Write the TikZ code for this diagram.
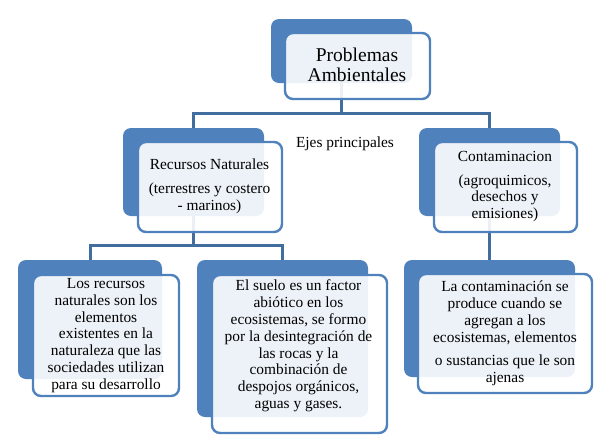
\documentclass[tikz,border=0pt]{standalone}
\usepackage{fontspec}
\setmainfont{Liberation Serif}
\usepackage{xcolor}
\usetikzlibrary{positioning}
\definecolor{smartblue}{RGB}{79,129,189}
\definecolor{linkblue}{RGB}{65,110,158}

\tikzset{
    backbox/.style={draw=none, fill=smartblue, rounded corners=8pt, inner sep=0pt},
    frontbox/.style={draw=smartblue, line width=2.4pt, fill=white, fill opacity=0.9, rounded corners=8pt, inner sep=0pt},
    txt/.style={align=center, inner sep=0pt, font=\fontsize{15.4}{16.8}\selectfont},
    link/.style={draw=linkblue, line width=3pt}
}

\begin{document}
\begin{tikzpicture}[x=1pt, y=-1pt]
    \useasboundingbox (0,0) rectangle (599,440);

    % Back boxes
    \node (probB) [backbox, minimum width=141pt, minimum height=64pt] at (341.5,51) {};
    \node (recB) [backbox, minimum width=141pt, minimum height=88pt] at (193.5,172) {};
    \node (contB) [backbox, minimum width=141pt, minimum height=88pt] at (489.5,172) {};
    \node (natB) [backbox, minimum width=144pt, minimum height=119pt] at (90,319.5) {};
    \node (sueloB) [backbox, minimum width=171pt, minimum height=157pt] at (282.5,338.5) {};
    \node (agenB) [backbox, minimum width=171pt, minimum height=117pt] at (489.5,318.5) {};

    % Connectors
    \draw[link] (probB.south) -- ++(0,30) coordinate (barTop) -| (recB.north);
    \draw[link] (barTop) -| (contB.north);
    \draw[link] (recB.south) -- ++(0,29) coordinate (barRec) -| (natB.north);
    \draw[link] (barRec) -| (sueloB.north);
    \draw[link] (contB.south) -- (agenB.north);

    % Front boxes
    \node (probF) [frontbox, minimum width=145pt, minimum height=66pt] at (357.5,66) {};
    \node (recF) [frontbox, minimum width=144pt, minimum height=90pt] at (210,187) {};
    \node (contF) [frontbox, minimum width=143pt, minimum height=90pt] at (505.5,187) {};
    \node (natF) [frontbox, minimum width=146pt, minimum height=121pt] at (106,335.5) {};
    \node (sueloF) [frontbox, minimum width=175pt, minimum height=158pt] at (299.5,354) {};
    \node (agenF) [frontbox, minimum width=174pt, minimum height=119pt] at (505,333.5) {};

    % Texts
    \node (probT) [txt, font=\fontsize{19.5}{20.5}\selectfont] at (357,65) {Problemas\\Ambientales};
    \node (recT) [txt] at (209.5,186.5) {Recursos Naturales\\[7pt](terrestres y costero\\- marinos)};
    \node (contT) [txt] at (505,186.5) {Contaminacion\\[7pt](agroquimicos,\\desechos y\\emisiones)};
    \node (natT) [txt] at (106,335.5) {Los recursos\\naturales son los\\elementos\\existentes en la\\naturaleza que las\\sociedades utilizan\\para su desarrollo};
    \node (sueloT) [txt] at (298.5,346) {El suelo es un factor\\abiótico en los\\ecosistemas, se formo\\por la desintegración de\\las rocas y la\\combinación de\\despojos orgánicos,\\aguas y gases.};
    \node (agenT) [txt] at (505,333.5) {La contaminación se\\produce cuando se\\agregan a los\\ecosistemas, elementos\\[7pt]o sustancias que le son\\ajenas};

    % Axis label
    \node (ejes) [txt] at (345,144) {Ejes principales};
\end{tikzpicture}
\end{document}
